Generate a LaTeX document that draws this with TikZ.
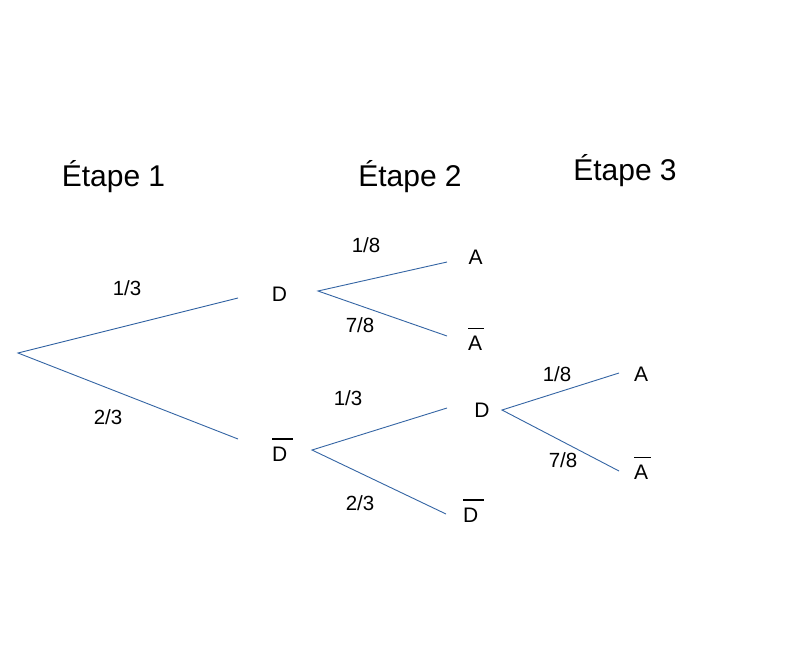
\documentclass[tikz,border=0pt]{standalone}
\usepackage{fontspec}
\setmainfont{Liberation Sans}
\newcommand{\ovlb}[4]{\vbox{\hrule height #2\kern #3\hbox{#1\kern #4}}}
\definecolor{branch}{HTML}{3465A4}
\tikzset{
  title/.style={font=\fontsize{30}{35}\selectfont, anchor=base, inner sep=0pt},
  lbl/.style={font=\fontsize{21}{25}\selectfont, anchor=base, inner sep=0pt},
  prob/.style={font=\fontsize{20.5}{24}\selectfont, anchor=base, inner sep=0pt},
  edge/.style={draw=branch, line width=0.9pt}
}
\begin{document}
\begin{tikzpicture}[x=1pt,y=-1pt]
\useasboundingbox[fill=white] (0,0) rectangle (809,649);
% titles
\node[title] (t1) at (113.5,186) {Étape 1};
\node[title] (t2) at (410,186) {Étape 2};
\node[title] (t3) at (625,180) {Étape 3};
% coordinates
\coordinate (root) at (18,353);
\coordinate (rD) at (238,298);
\coordinate (rDb) at (238,439);
\coordinate (D1s) at (318,291);
\coordinate (D1a) at (447,262);
\coordinate (D1b) at (447,336);
\coordinate (Db1s) at (312,450);
\coordinate (Db1a) at (447,408);
\coordinate (Db1b) at (446,514);
\coordinate (D2s) at (502,410);
\coordinate (D2a) at (619,373);
\coordinate (D2b) at (619,471);
% nodes
\node[lbl] (D1) at (279.5,301) {D};
\node[lbl,anchor=base west] (Db1) at (272,461) {\ovlb{D}{2pt}{6.5pt}{6pt}};
\node[lbl] (A1) at (475.5,264) {A};
\node[lbl,anchor=base west] (Ab1) at (468,350) {\ovlb{A}{1pt}{7pt}{1.5pt}};
\node[lbl] (D2) at (482,417) {D};
\node[lbl,anchor=base west] (Db2) at (463,522) {\ovlb{D}{2pt}{6.5pt}{6pt}};
\node[lbl] (A2) at (641,381) {A};
\node[lbl,anchor=base west] (Ab2) at (634,479) {\ovlb{A}{1pt}{7pt}{3pt}};
% branches
\draw[edge] (rD) -- (root) -- (rDb);
\draw[edge] (D1a) -- (D1s) -- (D1b);
\draw[edge] (Db1a) -- (Db1s) -- (Db1b);
\draw[edge] (D2a) -- (D2s) -- (D2b);
% probabilities
\node[prob] (p1) at (127,295) {1/3};
\node[prob] (p2) at (108,424) {2/3};
\node[prob] (p3) at (366,252) {1/8};
\node[prob] (p4) at (360,332) {7/8};
\node[prob] (p5) at (348,405) {1/3};
\node[prob] (p6) at (360,510) {2/3};
\node[prob] (p7) at (557,381) {1/8};
\node[prob] (p8) at (563,467) {7/8};
\end{tikzpicture}
\end{document}
